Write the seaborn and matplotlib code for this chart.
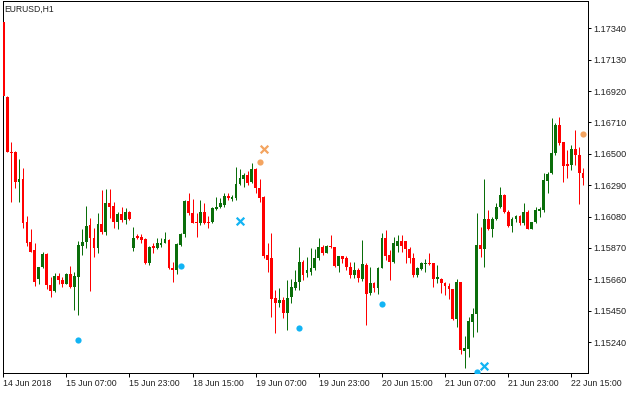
import matplotlib
matplotlib.use("Agg")
import matplotlib.pyplot as plt
import matplotlib.transforms as mtransforms
import numpy as np
import pandas as pd
import seaborn as sns

SYMBOL = "EURUSD,H1"

# hourly candles, 14 Jun 2018 15:00 onwards
OPEN = [
    1.17382, 1.16882, 1.16514, 1.16514, 1.16313, 1.16331, 1.16046, 1.15908, 1.15856, 1.15662,
    1.15743, 1.15830, 1.15622, 1.15582, 1.15683, 1.15656, 1.15629, 1.15696, 1.15611, 1.15678,
    1.15885, 1.15912, 1.16024, 1.15939, 1.15872, 1.16028, 1.15979, 1.16169, 1.16151, 1.16042,
    1.16095, 1.16057, 1.16109, 1.15868, 1.15952, 1.15941, 1.15928, 1.15768, 1.15883, 1.15868,
    1.15890, 1.15905, 1.15923, 1.15738, 1.15723, 1.15890, 1.15964, 1.16186, 1.16102, 1.16046,
    1.16035, 1.16113, 1.16046, 1.16046, 1.16131, 1.16142, 1.16158, 1.16218, 1.16196, 1.16202,
    1.16298, 1.16329, 1.16358, 1.16313, 1.16398, 1.16269, 1.16213, 1.15823, 1.15801, 1.15533,
    1.15504, 1.15522, 1.15437, 1.15540, 1.15600, 1.15644, 1.15778, 1.15701, 1.15711, 1.15734,
    1.15801, 1.15875, 1.15838, 1.15883, 1.15879, 1.15751, 1.15816, 1.15801, 1.15745, 1.15689,
    1.15723, 1.15660, 1.15756, 1.15567, 1.15638, 1.15600, 1.15734, 1.15935, 1.15823, 1.15778,
    1.15883, 1.15919, 1.15919, 1.15861, 1.15801, 1.15689, 1.15727, 1.15761, 1.15772, 1.15768,
    1.15660, 1.15662, 1.15634, 1.15616, 1.15596, 1.15395, 1.15640, 1.15183, 1.15192, 1.15373,
    1.15428, 1.15890, 1.15861, 1.16064, 1.15995, 1.16064, 1.16142, 1.16224, 1.16109, 1.16017,
    1.16064, 1.16086, 1.16035, 1.16109, 1.15997, 1.16042, 1.16119, 1.16124, 1.16320, 1.16370,
    1.16503, 1.16693, 1.16581, 1.16430, 1.16425, 1.16530, 1.16492, 1.16374,
]
HIGH = [
    1.17395, 1.16887, 1.16581, 1.16519, 1.16465, 1.16405, 1.16084, 1.15997, 1.15903, 1.15745,
    1.15843, 1.15837, 1.15678, 1.15703, 1.15703, 1.15678, 1.15703, 1.15749, 1.15711, 1.15919,
    1.15997, 1.16151, 1.16069, 1.16004, 1.16106, 1.16258, 1.16265, 1.16265, 1.16180, 1.16113,
    1.16146, 1.16139, 1.16117, 1.16012, 1.15962, 1.15964, 1.15935, 1.15885, 1.15905, 1.15935,
    1.15935, 1.15979, 1.15928, 1.15778, 1.15901, 1.15968, 1.16191, 1.16240, 1.16196, 1.16106,
    1.16191, 1.16173, 1.16084, 1.16142, 1.16213, 1.16202, 1.16236, 1.16240, 1.16224, 1.16410,
    1.16396, 1.16374, 1.16387, 1.16441, 1.16407, 1.16329, 1.16218, 1.15901, 1.15972, 1.15589,
    1.15600, 1.15542, 1.15656, 1.15661, 1.15723, 1.15877, 1.15790, 1.15812, 1.15868, 1.15861,
    1.15935, 1.15890, 1.15890, 1.15957, 1.15879, 1.15816, 1.15816, 1.15816, 1.15778, 1.15776,
    1.15736, 1.15923, 1.15770, 1.15745, 1.15644, 1.15745, 1.15968, 1.15990, 1.15856, 1.15945,
    1.15957, 1.15957, 1.15919, 1.15879, 1.15834, 1.15745, 1.15778, 1.15794, 1.15834, 1.15770,
    1.15756, 1.15667, 1.15644, 1.15634, 1.15596, 1.15661, 1.15640, 1.15281, 1.15410, 1.15466,
    1.16106, 1.16012, 1.16331, 1.16124, 1.16079, 1.16169, 1.16276, 1.16231, 1.16124, 1.16079,
    1.16091, 1.16091, 1.16169, 1.16124, 1.16046, 1.16146, 1.16146, 1.16370, 1.16380, 1.16738,
    1.16704, 1.16748, 1.16581, 1.16525, 1.16559, 1.16659, 1.16544, 1.16403,
]
LOW = [
    1.16880, 1.16512, 1.16180, 1.16271, 1.16180, 1.16006, 1.15885, 1.15843, 1.15618, 1.15629,
    1.15736, 1.15594, 1.15544, 1.15577, 1.15629, 1.15611, 1.15626, 1.15602, 1.15455, 1.15422,
    1.15823, 1.15868, 1.15582, 1.15812, 1.15838, 1.15964, 1.15957, 1.16069, 1.16006, 1.15995,
    1.16046, 1.16030, 1.16057, 1.15852, 1.15928, 1.15901, 1.15761, 1.15756, 1.15834, 1.15861,
    1.15879, 1.15901, 1.15727, 1.15644, 1.15694, 1.15883, 1.15941, 1.16091, 1.16035, 1.15945,
    1.16024, 1.16030, 1.16002, 1.16039, 1.16124, 1.16135, 1.16146, 1.16191, 1.16186, 1.16191,
    1.16291, 1.16280, 1.16291, 1.16307, 1.16236, 1.16180, 1.15801, 1.15711, 1.15410, 1.15299,
    1.15477, 1.15402, 1.15321, 1.15500, 1.15589, 1.15589, 1.15656, 1.15678, 1.15689, 1.15723,
    1.15790, 1.15823, 1.15834, 1.15868, 1.15745, 1.15711, 1.15768, 1.15723, 1.15667, 1.15669,
    1.15642, 1.15649, 1.15355, 1.15555, 1.15577, 1.15562, 1.15734, 1.15790, 1.15656, 1.15768,
    1.15845, 1.15845, 1.15768, 1.15768, 1.15678, 1.15678, 1.15723, 1.15711, 1.15756, 1.15607,
    1.15636, 1.15567, 1.15555, 1.15527, 1.15388, 1.15343, 1.15159, 1.15065, 1.15139, 1.15276,
    1.15310, 1.15812, 1.15745, 1.15990, 1.15945, 1.16057, 1.16135, 1.16106, 1.16012, 1.15975,
    1.16046, 1.16024, 1.16024, 1.15997, 1.15995, 1.16035, 1.16079, 1.16113, 1.16240, 1.16365,
    1.16492, 1.16559, 1.16313, 1.16336, 1.16392, 1.16425, 1.16164, 1.16291,
]
CLOSE = [
    1.16887, 1.16514, 1.16505, 1.16313, 1.16331, 1.16037, 1.15901, 1.15845, 1.15644, 1.15743,
    1.15830, 1.15622, 1.15582, 1.15683, 1.15656, 1.15629, 1.15696, 1.15611, 1.15683, 1.15890,
    1.15912, 1.16019, 1.15939, 1.15872, 1.16028, 1.15979, 1.16169, 1.16146, 1.16042, 1.16095,
    1.16057, 1.16109, 1.16062, 1.15939, 1.15935, 1.15923, 1.15768, 1.15879, 1.15868, 1.15901,
    1.15905, 1.15928, 1.15734, 1.15723, 1.15895, 1.15964, 1.16186, 1.16102, 1.16039, 1.16035,
    1.16113, 1.16039, 1.16035, 1.16135, 1.16146, 1.16169, 1.16218, 1.16202, 1.16213, 1.16298,
    1.16340, 1.16358, 1.16303, 1.16398, 1.16269, 1.16206, 1.15816, 1.15790, 1.15529, 1.15504,
    1.15522, 1.15437, 1.15533, 1.15607, 1.15644, 1.15778, 1.15689, 1.15723, 1.15734, 1.15801,
    1.15875, 1.15838, 1.15883, 1.15875, 1.15751, 1.15816, 1.15794, 1.15745, 1.15689, 1.15723,
    1.15667, 1.15763, 1.15562, 1.15638, 1.15600, 1.15734, 1.15935, 1.15816, 1.15778, 1.15905,
    1.15919, 1.15883, 1.15861, 1.15801, 1.15689, 1.15734, 1.15768, 1.15772, 1.15761, 1.15660,
    1.15676, 1.15634, 1.15616, 1.15596, 1.15395, 1.15640, 1.15187, 1.15199, 1.15382, 1.15428,
    1.15890, 1.15861, 1.16064, 1.15995, 1.16064, 1.16142, 1.16224, 1.16113, 1.16017, 1.16064,
    1.16086, 1.16035, 1.16109, 1.15997, 1.16042, 1.16124, 1.16131, 1.16325, 1.16363, 1.16507,
    1.16693, 1.16570, 1.16418, 1.16418, 1.16530, 1.16492, 1.16374, 1.16340,
]

TIME_LABEL_BARS = [0, 16, 32, 48, 64, 80, 96, 112, 128, 144]
TIME_LABELS = [
    "14 Jun 2018", "15 Jun 07:00", "15 Jun 23:00", "18 Jun 15:00", "19 Jun 07:00",
    "19 Jun 23:00", "20 Jun 15:00", "21 Jun 07:00", "21 Jun 23:00", "22 Jun 15:00",
]
PRICE_TICKS = [1.15240, 1.15450, 1.15660, 1.15870, 1.16080, 1.16290,
               1.16500, 1.16710, 1.16920, 1.17130, 1.17340]

# signal markers (bar index, price)
BUY_DOT_BARS = [19, 45, 75, 96, 120]
BUY_DOT_PRICES = [1.15254, 1.15749, 1.15337, 1.15493, 1.15042]
BUY_CROSS_BARS = [60, 122]
BUY_CROSS_PRICES = [1.16053, 1.15080]
SELL_DOT_BARS = [65, 147]
SELL_DOT_PRICES = [1.16447, 1.16633]
SELL_CROSS_BARS = [66]
SELL_CROSS_PRICES = [1.16532]

BULL = "#0a6e0a"
BEAR = "#ff0000"
BUY_COLOR = "#12b4f4"
SELL_COLOR = "#f4a460"
PX = 0.72  # one pixel in points at dpi 100


def main() -> None:
    sns.set_theme(style="white")
    plt.rcParams["font.family"] = ["Liberation Sans", "DejaVu Sans"]

    bars = pd.DataFrame({"open": OPEN, "high": HIGH, "low": LOW, "close": CLOSE})
    bars["bar"] = np.arange(len(bars))
    bars["up"] = bars["close"] >= bars["open"]

    fig = plt.figure(figsize=(6.4, 3.94), dpi=100)
    ax = fig.add_axes([2.5 / 640, 21 / 394, 585.5 / 640, 372 / 394])

    for is_up, color in ((True, BULL), (False, BEAR)):
        sub = bars[bars["up"] == is_up]
        ax.vlines(sub["bar"], sub["low"], sub["high"], color=color, linewidth=PX, zorder=2)
        height = (sub["close"] - sub["open"]).abs().clip(lower=0.00007)
        bottom = sub[["open", "close"]].min(axis=1)
        ax.bar(sub["bar"], height, bottom=bottom, width=0.72, color=color, linewidth=0, zorder=3)

    sns.scatterplot(x=BUY_DOT_BARS, y=BUY_DOT_PRICES, color=BUY_COLOR, s=20,
                    linewidth=0, ax=ax, zorder=4, legend=False)
    sns.scatterplot(x=SELL_DOT_BARS, y=SELL_DOT_PRICES, color=SELL_COLOR, s=20,
                    linewidth=0, ax=ax, zorder=4, legend=False)
    sns.scatterplot(x=BUY_CROSS_BARS, y=BUY_CROSS_PRICES, color=BUY_COLOR, marker="x",
                    s=30, linewidth=1.6, ax=ax, zorder=4, legend=False)
    sns.scatterplot(x=SELL_CROSS_BARS, y=SELL_CROSS_PRICES, color=SELL_COLOR, marker="x",
                    s=30, linewidth=1.6, ax=ax, zorder=4, legend=False)

    ax.set_xlim(-0.2, 148.25)
    ax.set_ylim(1.150336, 1.175223)

    ax.set_xticks(TIME_LABEL_BARS)
    ax.set_xticklabels(TIME_LABELS, fontsize=6.3, ha="left", color="#222222")
    shift = mtransforms.ScaledTranslation(1.5 / 100, 0, fig.dpi_scale_trans)
    for label in ax.get_xticklabels():
        label.set_transform(label.get_transform() + shift)
    ax.tick_params(axis="x", direction="out", length=3, width=PX, pad=1.5, color="black", bottom=True)

    ax.yaxis.tick_right()
    ax.set_yticks(PRICE_TICKS)
    ax.set_yticklabels([f"{p:.5f}" for p in PRICE_TICKS], fontsize=6.6, color="#222222")
    ax.tick_params(axis="y", direction="out", length=2.5, width=PX, pad=1.5, color="black", right=True)

    for spine in ax.spines.values():
        spine.set_color("black")
        spine.set_linewidth(PX)
    ax.set_xlabel("")
    ax.set_ylabel("")
    ax.grid(False)

    fig.text(4 / 640, 1 - 9 / 394, SYMBOL, ha="left", va="center", fontsize=6.2, color="#222222")

    fig.savefig("out.png", dpi=100, facecolor="white")
    plt.close(fig)


if __name__ == "__main__":
    main()
